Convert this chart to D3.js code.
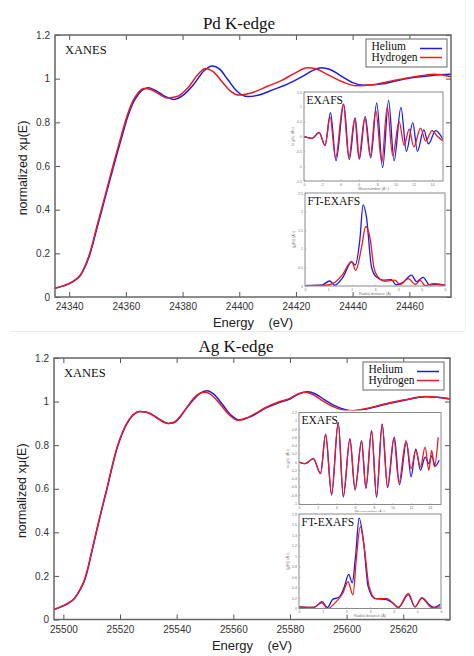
<!DOCTYPE html>
<html>
<head>
<meta charset="utf-8">
<script src="https://cdn.jsdelivr.net/npm/d3@7"></script>
<style>
  body { margin: 0; background: #fff; }
</style>
</head>
<body>
<svg id="canvas" width="474" height="656"></svg>
<script>
// ---- Pd K-edge XANES (energy eV, normalized mu) ----
let pdXanesHe = [[24335,0.040],[24338,0.051],[24340,0.061],[24342,0.076],[24344,0.099],[24345.5,0.135],[24347,0.183],
  [24350,0.325],[24353,0.47],[24356,0.615],[24358.5,0.73],[24360.5,0.82],[24362.5,0.888],[24364.5,0.93],[24366,0.95],
  [24368,0.958],[24371,0.942],[24374,0.918],[24377,0.905],[24380,0.922],
  [24384,0.975],[24387.5,1.035],[24390.5,1.058],[24393,1.045],[24396,0.995],[24399,0.945],[24403,0.918],[24407,0.925],
  [24412,0.95],[24417,0.975],[24422,1.008],[24426,1.038],[24429,1.05],[24432,1.042],[24436,1.012],[24440,0.982],
  [24444,0.97],[24450,0.975],[24456,0.992],[24462,1.006],[24468,1.015],[24475,1.02]];
let pdXanesH2 = [[24335,0.040],[24338,0.052],[24340,0.062],[24342,0.078],[24344,0.102],[24345.5,0.14],[24347,0.19],
  [24350,0.335],[24353,0.48],[24356,0.628],[24358.5,0.745],[24360.5,0.833],[24362.5,0.898],[24364.5,0.938],[24366.3,0.955],
  [24368.5,0.952],[24371,0.935],[24374.5,0.912],[24378,0.918],[24382,0.96],
  [24385.5,1.02],[24388,1.047],[24391,1.03],[24394,0.985],[24397,0.942],[24400,0.925],[24405,0.938],[24410,0.965],
  [24415,0.992],[24420,1.028],[24424,1.05],[24427,1.045],[24431,1.02],[24436,0.988],[24441,0.968],[24447,0.972],
  [24452,0.985],[24458,1.0],[24464,1.013],[24469,1.02],[24475,1.008]];

// ---- Pd EXAFS k^2 chi(k) extrema (k, value) ----
let pdExafsHe = [[0,0],[0.9,-0.06],[1.65,0.14],[2.3,-0.3],[2.9,0.8],[3.5,-0.82],[4.35,1.08],[4.95,-0.78],[5.6,0.63],
  [6.05,-0.76],[6.7,0.67],[7.3,-0.72],[7.95,1.13],[8.6,-1.05],[9.25,1.22],[9.85,-0.82],[10.6,0.98],[11.2,-0.5],
  [11.9,0.47],[12.4,-0.5],[13.1,0.22],[13.6,-0.25],[14.4,0.2],[15.2,-0.1]];
let pdExafsH2 = [[0,0],[0.9,-0.06],[1.65,0.14],[2.3,-0.3],[2.85,0.65],[3.45,-0.72],[4.3,1.1],[4.9,-0.72],[5.55,0.6],
  [6.0,-0.72],[6.65,0.63],[7.25,-0.66],[7.85,0.88],[8.5,-0.88],[9.1,1.0],[9.7,-0.65],[10.4,0.5],[10.95,-0.3],
  [11.5,0.25],[12.0,-0.35],[12.75,0.28],[13.3,-0.15],[14.0,0.2],[14.6,0.0],[15.2,-0.15]];

// ---- Pd FT-EXAFS |chi(R)| ----
let pdFtHe = [[0,0.01],[0.7,0.02],[1.06,0.135],[1.27,0.02],[1.63,0.24],[2.0,0.65],[2.15,0.56],[2.35,1.24],[2.49,2.18],
  [2.63,1.87],[2.85,0.51],[3.06,0.24],[3.35,0.16],[3.7,0.17],[3.9,0.03],[4.18,0.09],[4.57,0.29],[4.78,0.12],
  [5.06,0.23],[5.34,0.03],[5.64,0.04],[6,0.02]];
let pdFtH2 = [[0,0.01],[0.9,0.02],[1.2,0.07],[1.6,0.3],[2.0,0.66],[2.17,0.42],[2.43,1.06],[2.6,1.6],[2.8,1.24],
  [2.95,0.51],[3.12,0.25],[3.4,0.13],[3.85,0.16],[4.07,0.04],[4.43,0.2],[4.73,0.04],[4.94,0.15],[5.16,0.01],
  [5.5,0.06],[6,0.02]];

// ---- Ag K-edge XANES ----
let agXanesHe = [[25496.7,0.046],[25499,0.057],[25501.5,0.072],[25504,0.097],[25506,0.138],[25507.5,0.18],[25508.5,0.224],
  [25510,0.308],[25512,0.42],[25514,0.527],[25515.5,0.604],[25517,0.688],[25519,0.788],[25521,0.86],[25522.5,0.9],
  [25524.5,0.936],[25527,0.955],[25529,0.952],[25531,0.943],[25534,0.918],[25537,0.90],[25539,0.903],[25541,0.925],
  [25543.5,0.97],[25546,1.01],[25548.5,1.04],[25550.8,1.05],[25553,1.035],[25556,0.99],[25559,0.94],[25562.3,0.915],
  [25566,0.93],[25571.8,0.972],[25576,0.995],[25580,1.012],[25583,1.035],[25586.3,1.045],[25589,1.035],[25592,1.01],
  [25596,0.98],[25599,0.965],[25602.5,0.958],[25607,0.966],[25613,0.985],[25620,1.005],[25628,1.022],[25632,1.02],
  [25636.5,1.012]];
let agXanesH2 = [[25496.7,0.046],[25499,0.058],[25501.5,0.074],[25504,0.099],[25506,0.141],[25507.5,0.184],[25508.5,0.228],
  [25510,0.312],[25512,0.424],[25514,0.531],[25515.5,0.608],[25517,0.692],[25519,0.792],[25521,0.863],[25522.5,0.902],
  [25524.5,0.938],[25527,0.955],[25529,0.952],[25531,0.942],[25534,0.916],[25537,0.90],[25539,0.905],[25541,0.928],
  [25543.5,0.972],[25546,1.015],[25548.3,1.038],[25550.3,1.043],[25552.5,1.028],[25555.3,0.989],[25558.5,0.94],
  [25561.6,0.914],[25565.5,0.93],[25571.8,0.975],[25576,0.998],[25580,1.015],[25583,1.036],[25585.5,1.043],
  [25588,1.033],[25591,1.008],[25595,0.978],[25598.5,0.962],[25601.8,0.958],[25607,0.968],[25613,0.988],[25620,1.007],
  [25628,1.023],[25632,1.02],[25636.5,1.012]];

// ---- Ag EXAFS ----
let agExafsHe = [[0,0],[0.64,-0.04],[1.53,0.08],[2.31,-0.28],[2.85,0.67],[3.49,-0.8],[4.2,0.96],[4.74,-0.85],[5.45,0.56],
  [6.0,-0.68],[6.7,0.52],[7.16,-0.64],[7.77,0.76],[8.3,-0.86],[8.9,0.92],[9.48,-0.62],[10.2,0.6],[10.75,-0.55],
  [11.5,0.48],[12.0,-0.36],[12.5,0.32],[13.0,-0.2],[13.5,0.12],[13.9,-0.04],[14.2,0.15],[14.6,-0.1],[15.0,0.04]];
let agExafsH2 = [[0,0],[0.64,-0.04],[1.53,0.08],[2.31,-0.28],[2.85,0.67],[3.49,-0.76],[4.2,0.96],[4.74,-0.82],[5.45,0.56],
  [6.0,-0.66],[6.7,0.5],[7.16,-0.62],[7.77,0.76],[8.3,-0.82],[8.9,0.92],[9.48,-0.6],[10.15,0.58],[10.7,-0.5],
  [11.45,0.52],[12.0,-0.16],[12.5,0.28],[13.0,-0.12],[13.5,0.36],[13.9,-0.2],[14.2,0.28],[14.5,-0.12],[14.9,0.6]];

// ---- Ag FT-EXAFS ----
let agFtHe = [[0,0.03],[0.64,0.02],[0.97,0.13],[1.2,0.02],[1.42,0.17],[1.71,0.22],[1.92,0.42],[2.1,0.65],[2.25,0.49],
  [2.39,1.0],[2.54,1.72],[2.73,1.26],[2.92,0.42],[3.2,0.19],[3.7,0.17],[3.98,0.1],[4.2,0.02],[4.62,0.26],[4.9,0.03],
  [5.19,0.2],[5.54,0.06],[5.71,0.02],[5.97,0.08]];
let agFtH2 = [[0,0.03],[0.6,0.02],[0.97,0.11],[1.2,0.0],[1.57,0.13],[1.85,0.29],[2.07,0.51],[2.28,0.26],[2.42,0.94],
  [2.59,1.56],[2.77,1.12],[2.96,0.42],[3.24,0.19],[3.72,0.19],[4.2,0.02],[4.62,0.29],[4.9,0.03],[5.19,0.2],
  [5.6,0.02],[5.97,0.03]];

// ---- tick values ----
let pdEnergyTicks = [24340, 24360, 24380, 24400, 24420, 24440, 24460];
let agEnergyTicks = [25500, 25520, 25540, 25560, 25580, 25600, 25620];
let muTicks = [0, 0.2, 0.4, 0.6, 0.8, 1, 1.2];
let kTicks = [0, 2, 4, 6, 8, 10, 12, 14];
let rTicks = [0, 1, 2, 3, 4, 5, 6];
let pdExafsTicks = [-1.5, -1, -0.5, 0, 0.5, 1, 1.5];
let pdFtTicks = [0, 0.5, 1, 1.5, 2, 2.5];
let agExafsTicks = [-1, -0.8, -0.6, -0.4, -0.2, 0, 0.2, 0.4, 0.6, 0.8, 1, 1.2];
let agFtTicks = [0, 0.2, 0.4, 0.6, 0.8, 1, 1.2, 1.4, 1.6, 1.8];

let canvas = d3.select('#canvas');
let serif = '"Liberation Serif","Times New Roman",serif';
let sans = '"Liberation Sans",Arial,sans-serif';
let blue = '#1c1ce8';
let red = '#ec1a22';

// faint panel separators
canvas.append('line').attr('x1', 10).attr('x2', 465).attr('y1', 331.5).attr('y2', 331.5)
    .attr('stroke', '#e8e8e8').attr('stroke-width', 1);
canvas.append('line').attr('x1', 465.5).attr('x2', 465.5).attr('y1', 0).attr('y2', 331)
    .attr('stroke', '#ececec').attr('stroke-width', 1);

let clipId = 0;

// small inset plot
let drawInset = (g, box, xDom, yDom, xTicks, yTicks, heData, h2Data, title, xLabel, yLabel) => {
    let x = d3.scaleLinear().domain(xDom).range([box.x0, box.x1]);
    let y = d3.scaleLinear().domain(yDom).range([box.y1, box.y0]);

    g.append('rect').attr('x', box.x0 - 16).attr('y', box.y0 - 2)
        .attr('width', box.x1 - box.x0 + 18).attr('height', box.y1 - box.y0 + 12)
        .attr('fill', '#fff');

    let fmt = (d) => String(d);
    let gx = g.append('g').attr('transform', `translate(0,${box.y1})`)
        .call(d3.axisBottom(x).tickValues(xTicks).tickFormat(fmt)
            .tickSizeInner(-1.5).tickSizeOuter(0).tickPadding(2));
    let gy = g.append('g').attr('transform', `translate(${box.x0},0)`)
        .call(d3.axisLeft(y).tickValues(yTicks).tickFormat(fmt)
            .tickSizeInner(-1.5).tickSizeOuter(0).tickPadding(2));
    [gx, gy].forEach((a) => {
        a.select('.domain').remove();
        a.selectAll('line').attr('stroke', '#999').attr('stroke-width', 0.5);
        a.selectAll('text').attr('font-size', 3.6).attr('font-family', sans).attr('fill', '#777');
    });

    let id = 'clip' + (clipId++);
    g.append('clipPath').attr('id', id).append('rect')
        .attr('x', box.x0).attr('y', box.y0).attr('width', box.x1 - box.x0).attr('height', box.y1 - box.y0);

    let line = d3.line().x((d) => x(d[0])).y((d) => y(d[1])).curve(d3.curveMonotoneX);
    g.append('path').datum(heData).attr('d', line).attr('fill', 'none')
        .attr('stroke', blue).attr('stroke-width', 1.3).attr('clip-path', `url(#${id})`);
    g.append('path').datum(h2Data).attr('d', line).attr('fill', 'none')
        .attr('stroke', red).attr('stroke-width', 1.3).attr('clip-path', `url(#${id})`);

    g.append('rect').attr('x', box.x0).attr('y', box.y0)
        .attr('width', box.x1 - box.x0).attr('height', box.y1 - box.y0)
        .attr('fill', 'none').attr('stroke', '#8a8a8a').attr('stroke-width', 1);

    g.append('text').attr('x', box.x0 + 2.5).attr('y', box.y0 + 11.5)
        .attr('font-family', serif).attr('font-size', 11.5).attr('fill', '#111').text(title);
    g.append('text').attr('x', (box.x0 + box.x1) / 2).attr('y', box.y1 + 8.5)
        .attr('text-anchor', 'middle').attr('font-family', sans).attr('font-size', 3.8).attr('fill', '#777')
        .text(xLabel);
    g.append('text')
        .attr('transform', `translate(${box.x0 - 10},${(box.y0 + box.y1) / 2}) rotate(-90)`)
        .attr('text-anchor', 'middle').attr('font-family', sans).attr('font-size', 3.8).attr('fill', '#777')
        .text(yLabel);
};

let drawPanel = (p) => {
    let g = canvas.append('g');
    let x = d3.scaleLinear().domain(p.xDomain).range([p.left, p.right]);
    let y = d3.scaleLinear().domain([0, 1.2]).range([p.bottom, p.top]);

    // title
    g.append('text').attr('x', p.titleX).attr('y', p.titleY).attr('text-anchor', 'middle')
        .attr('font-family', serif).attr('font-size', 17).attr('fill', '#111').text(p.title);

    // curves
    let id = 'clip' + (clipId++);
    g.append('clipPath').attr('id', id).append('rect')
        .attr('x', p.left).attr('y', p.top).attr('width', p.right - p.left).attr('height', p.bottom - p.top);
    let line = d3.line().x((d) => x(d[0])).y((d) => y(d[1])).curve(d3.curveMonotoneX);
    g.append('path').datum(p.he).attr('d', line).attr('fill', 'none')
        .attr('stroke', blue).attr('stroke-width', 1.5).attr('clip-path', `url(#${id})`);
    g.append('path').datum(p.h2).attr('d', line).attr('fill', 'none')
        .attr('stroke', red).attr('stroke-width', 1.5).attr('clip-path', `url(#${id})`);

    // insets
    drawInset(g, p.exafsBox, [0, 15.2], p.exafsDomain, kTicks, p.exafsTicks, p.exafsHe, p.exafsH2,
        'EXAFS', 'Wavenumber    (Å⁻¹)', 'k² χ(k)    (Å⁻²)');
    drawInset(g, p.ftBox, [0, 6], p.ftDomain, rTicks, p.ftTicks, p.ftHe, p.ftH2,
        'FT-EXAFS', 'Radial distance    (Å)', '|χ(R)|    (Å⁻³)');

    // axes with inward ticks
    let styleAxis = (a) => {
        a.select('.domain').remove();
        a.selectAll('line').attr('stroke', '#555').attr('stroke-width', 1);
        a.selectAll('text').attr('font-family', sans).attr('font-size', 10).attr('fill', '#333');
    };
    let gB = g.append('g').attr('transform', `translate(0,${p.bottom})`)
        .call(d3.axisBottom(x).tickValues(p.xTicks).tickFormat(d3.format('d'))
            .tickSizeInner(-5).tickSizeOuter(0).tickPadding(6));
    let gT = g.append('g').attr('transform', `translate(0,${p.top})`)
        .call(d3.axisTop(x).tickValues(p.xTicks).tickFormat('').tickSizeInner(-5).tickSizeOuter(0));
    let gL = g.append('g').attr('transform', `translate(${p.left},0)`)
        .call(d3.axisLeft(y).tickValues(muTicks).tickFormat((d) => String(d))
            .tickSizeInner(-5).tickSizeOuter(0).tickPadding(5));
    let gR = g.append('g').attr('transform', `translate(${p.right},0)`)
        .call(d3.axisRight(y).tickValues(muTicks).tickFormat('').tickSizeInner(-5).tickSizeOuter(0));
    [gB, gT, gL, gR].forEach(styleAxis);

    g.append('rect').attr('x', p.left).attr('y', p.top)
        .attr('width', p.right - p.left).attr('height', p.bottom - p.top)
        .attr('fill', 'none').attr('stroke', '#666').attr('stroke-width', 1.5);

    // axis labels
    g.append('text').attr('x', p.energyX).attr('y', p.bottom + 30).attr('text-anchor', 'middle')
        .attr('font-family', sans).attr('font-size', 13).attr('fill', '#222')
        .attr('xml:space', 'preserve').text('Energy    (eV)');
    g.append('text')
        .attr('transform', `translate(${p.left - 28},${(p.top + p.bottom) / 2 + 2}) rotate(-90)`)
        .attr('text-anchor', 'middle').attr('font-family', sans).attr('font-size', 12.5).attr('fill', '#222')
        .text('normalized xμ(E)');

    // XANES label
    g.append('text').attr('x', p.left + 10).attr('y', p.top + 19)
        .attr('font-family', serif).attr('font-size', 12.5).attr('fill', '#111').text('XANES');

    // legend
    let lg = p.legend;
    g.append('rect').attr('x', lg.x).attr('y', lg.y).attr('width', 81).attr('height', 28)
        .attr('fill', '#fff').attr('stroke', '#666').attr('stroke-width', 1);
    let items = [['Helium', blue], ['Hydrogen', red]];
    items.forEach((it, i) => {
        g.append('text').attr('x', lg.x + 5.5).attr('y', lg.y + 11 + i * 11.2)
            .attr('font-family', serif).attr('font-size', 11.5).attr('fill', '#111').text(it[0]);
        g.append('line').attr('x1', lg.x + 54).attr('x2', lg.x + 76)
            .attr('y1', lg.y + 9.5 + i * 9).attr('y2', lg.y + 9.5 + i * 9)
            .attr('stroke', it[1]).attr('stroke-width', 1.5);
    });
};

drawPanel({
    title: 'Pd K-edge', titleX: 239, titleY: 29,
    left: 55, right: 451, top: 35, bottom: 297,
    xDomain: [24335, 24474.7], xTicks: pdEnergyTicks, energyX: 253,
    he: pdXanesHe, h2: pdXanesH2,
    legend: { x: 366, y: 39 },
    exafsBox: { x0: 304, x1: 443, y0: 92, y1: 181 }, exafsDomain: [-1.5, 1.5], exafsTicks: pdExafsTicks,
    exafsHe: pdExafsHe, exafsH2: pdExafsH2,
    ftBox: { x0: 305, x1: 445, y0: 193, y1: 286 }, ftDomain: [0, 2.5], ftTicks: pdFtTicks,
    ftHe: pdFtHe, ftH2: pdFtH2
});

drawPanel({
    title: 'Ag K-edge', titleX: 236, titleY: 352,
    left: 54, right: 450, top: 358, bottom: 619.5,
    xDomain: [25496.7, 25636.5], xTicks: agEnergyTicks, energyX: 252,
    he: agXanesHe, h2: agXanesH2,
    legend: { x: 363, y: 362 },
    exafsBox: { x0: 299, x1: 441, y0: 412.5, y1: 504.5 }, exafsDomain: [-1.03, 1.2], exafsTicks: agExafsTicks,
    exafsHe: agExafsHe, exafsH2: agExafsH2,
    ftBox: { x0: 299, x1: 441, y0: 514, y1: 608.5 }, ftDomain: [0, 1.8], ftTicks: agFtTicks,
    ftHe: agFtHe, ftH2: agFtH2
});
</script>
</body>
</html>
